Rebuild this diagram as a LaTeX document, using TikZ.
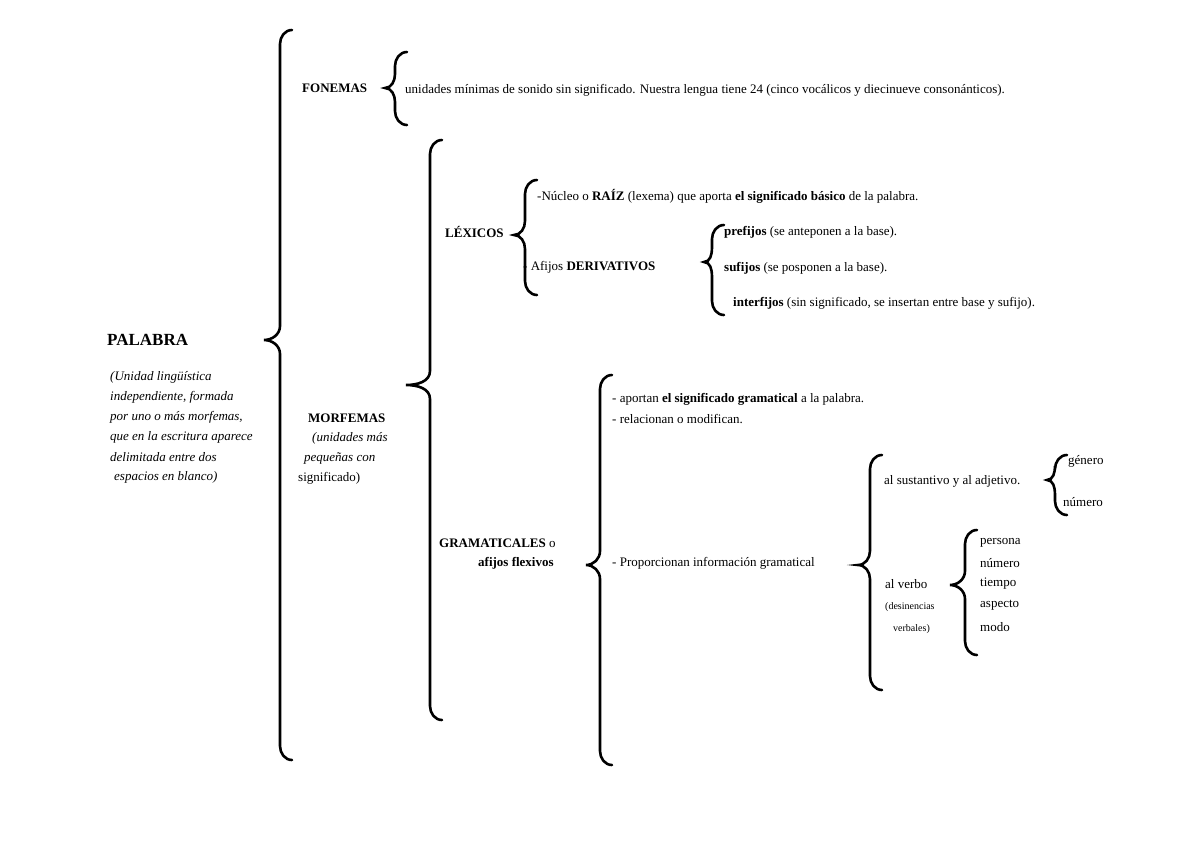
\documentclass[tikz,border=0pt]{standalone}
\usepackage{fontspec}
\setmainfont{Liberation Serif}
\begin{document}
\begin{tikzpicture}[x=1pt,y=1pt,
  t/.style={anchor=west,inner sep=0pt,font=\fontsize{13}{15}\selectfont},
  ti/.style={t,font=\fontsize{13}{15}\selectfont\itshape},
  br/.style={line width=2.6pt,line cap=round}]
\useasboundingbox[fill=white] (0,0) rectangle (1200,-849);
\newcommand\mybrace[5]{% x, top, tipx, tipy, bot
  \draw[br] (#1+12,-#2) to[out=180,in=90] (#1,-#2-14) -- (#1,-#4+14)
    to[out=-90,in=0] (#3,-#4) to[out=0,in=90] (#1,-#4-14) -- (#1,-#5+14)
    to[out=-90,in=180] (#1+12,-#5);}
\mybrace{280}{30}{264}{340}{760}
\mybrace{395}{52}{385}{88}{125}
\mybrace{430}{140}{406}{385}{720}
\mybrace{525}{180}{514}{235}{295}
\mybrace{712}{225}{704}{262}{315}
\mybrace{600}{375}{586}{565}{765}
\mybrace{870}{455}{858}{565}{690}
\mybrace{1055}{455}{1047}{480}{515}
\mybrace{965}{530}{950}{585}{655}
\node[t,font=\fontsize{17}{19}\selectfont\bfseries] (pal) at (107,-340) {PALABRA};
\node[ti] (p1) at (110,-377) {(Unidad lingüística};
\node[ti] (p2) at (110,-397) {independiente, formada};
\node[ti] (p3) at (110,-417) {por uno o más morfemas,};
\node[ti] (p4) at (110,-437) {que en la escritura aparece};
\node[ti] (p5) at (110,-457) {delimitada entre dos};
\node[ti] (p6) at (114,-477) {espacios en blanco)};
\node[t] (fon) at (302,-88) {\textbf{FONEMAS}};
\node[t] (fond) at (405,-90) {unidades mínimas de sonido sin significado. Nuestra lengua tiene 24 (cinco vocálicos y diecinueve consonánticos).};
\node[t] (mor) at (308,-418) {\textbf{MORFEMAS}};
\node[ti] (m1) at (312,-438) {(unidades más};
\node[ti] (m2) at (304,-458) {pequeñas con};
\node[t] (m3) at (298,-478) {significado)};
\node[t] (lex) at (445,-232) {\textbf{LÉXICOS}};
\node[t] (nuc) at (537,-196) {-Núcleo o \textbf{RAÍZ} (lexema) que aporta \textbf{el significado básico} de la palabra.};
\node[t] (afi) at (523,-267) {- Afijos \textbf{DERIVATIVOS}};
\node[t] (pre) at (724,-232) {\textbf{prefijos} (se anteponen a la base).};
\node[t] (suf) at (724,-268) {\textbf{sufijos} (se posponen a la base).};
\node[t] (int) at (733,-303) {\textbf{interfijos} (sin significado, se insertan entre base y sufijo).};
\node[t] (ap) at (612,-399) {- aportan \textbf{el significado gramatical} a la palabra.};
\node[t] (rel) at (612,-419) {- relacionan o modifican.};
\node[t] (gra) at (439,-543) {\textbf{GRAMATICALES} o};
\node[t] (fle) at (478,-563) {\textbf{afijos flexivos}};
\node[t] (prop) at (612,-563) {- Proporcionan información gramatical};
\node[t] (sus) at (884,-481) {al sustantivo y al adjetivo.};
\node[t] (gen) at (1068,-461) {género};
\node[t] (num1) at (1063,-502) {número};
\node[t] (ver) at (885,-584) {al verbo};
\node[t,font=\fontsize{10}{12}\selectfont] (des) at (885,-607) {(desinencias};
\node[t,font=\fontsize{10}{12}\selectfont] (vbl) at (893,-629) {verbales)};
\node[t] (per) at (980,-543) {persona};
\node[t] (num2) at (980,-563) {número};
\node[t] (tie) at (980,-584) {tiempo};
\node[t] (asp) at (980,-605) {aspecto};
\node[t] (mod) at (980,-627) {modo};
\end{tikzpicture}
\end{document}
